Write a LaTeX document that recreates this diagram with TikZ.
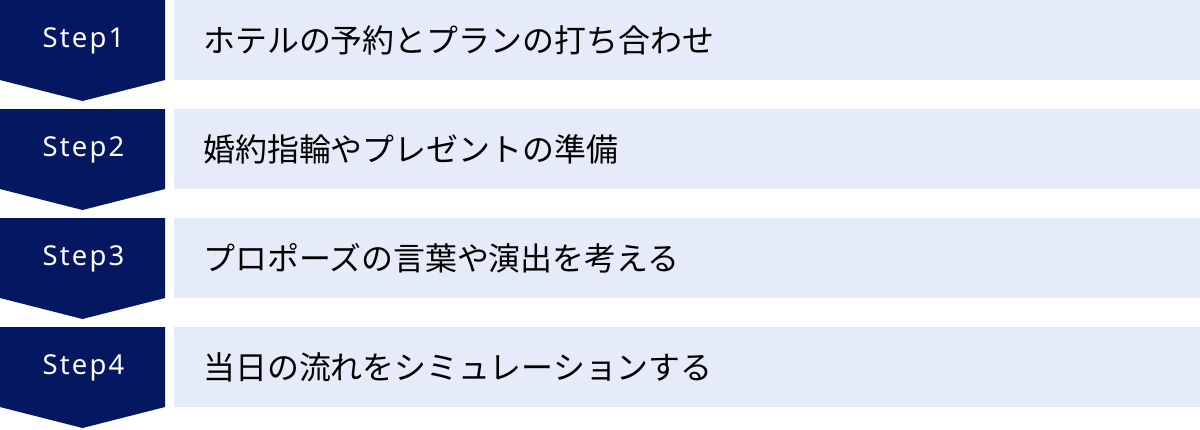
\documentclass[tikz,border=0pt]{standalone}
\usepackage{fontspec}
\usepackage{tikz}
\usetikzlibrary{positioning, calc}
\newfontfamily\jpfont{Noto Sans CJK JP}
\newfontfamily\stepfont[LetterSpace=8]{Noto Sans}
\definecolor{stepnavy}{HTML}{041862}
\definecolor{panelblue}{HTML}{E5EBF9}

\begin{document}
\begin{tikzpicture}[x=0.025cm, y=-0.025cm,
  steplabel/.style={white, anchor=base, inner sep=0pt, font=\fontsize{19.5}{19.5}\selectfont\stepfont},
  tasklabel/.style={black, anchor=west, inner sep=0pt, font=\fontsize{22.7}{22.7}\selectfont\jpfont}]
  \fill[white] (0,0) rectangle (1200,429);

  % Step 1
  \fill[stepnavy] (0,0) -- (165,0) -- (165,80) -- (82.5,101) -- (0,80) -- cycle;
  \fill[panelblue] (174,0) rectangle (1200,80);
  \node[steplabel] (step1) at (83.5,47) {Step1};
  \node[tasklabel] (task1) at (203,40) {ホテルの予約とプランの打ち合わせ};

  % Step 2
  \fill[stepnavy] (0,109) -- (165,109) -- (165,189) -- (82.5,210) -- (0,189) -- cycle;
  \fill[panelblue] (174,109) rectangle (1200,189);
  \node[steplabel] (step2) at (83.5,156) {Step2};
  \node[tasklabel] (task2) at (203,149) {婚約指輪やプレゼントの準備};

  % Step 3
  \fill[stepnavy] (0,218) -- (165,218) -- (165,298) -- (82.5,319) -- (0,298) -- cycle;
  \fill[panelblue] (174,218) rectangle (1200,298);
  \node[steplabel] (step3) at (83.5,265) {Step3};
  \node[tasklabel] (task3) at (203,258) {プロポーズの言葉や演出を考える};

  % Step 4
  \fill[stepnavy] (0,327) -- (165,327) -- (165,407) -- (82.5,428) -- (0,407) -- cycle;
  \fill[panelblue] (174,327) rectangle (1200,407);
  \node[steplabel] (step4) at (83.5,374) {Step4};
  \node[tasklabel] (task4) at (203,367) {当日の流れをシミュレーションする};
\end{tikzpicture}
\end{document}
